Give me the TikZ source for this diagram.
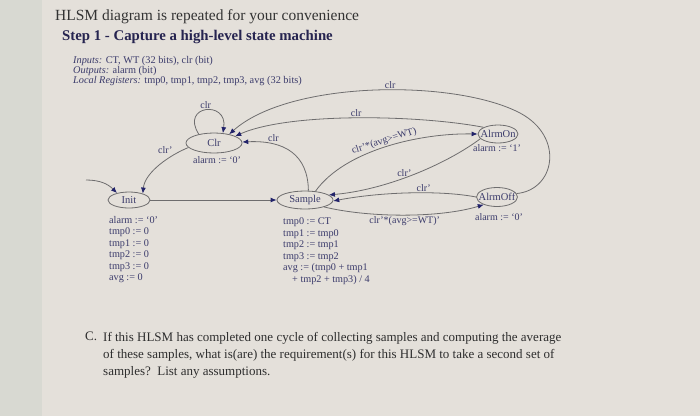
\documentclass[tikz,border=0pt]{standalone}
\usepackage{fontspec}
\setmainfont{Liberation Serif}
\usepackage{xcolor}
\usepackage{tikz}
\usetikzlibrary{arrows.meta,positioning,calc}
\usetikzlibrary{shapes.geometric}
\definecolor{paper}{HTML}{E4E0DA}
\definecolor{strip}{HTML}{D8D9D2}
\definecolor{ink}{HTML}{3B3B6B}
\definecolor{tipc}{HTML}{22236A}
\definecolor{wire}{HTML}{6E6D6E}
\definecolor{stepc}{HTML}{262450}

\begin{document}
\begin{tikzpicture}[x=1pt,y=-1pt,
	st/.style={ellipse,draw=wire,line width=0.8pt,inner xsep=0pt,inner ysep=0pt,text=ink,font=\fontsize{10.5}{11}\selectfont},
	edge/.style={draw=wire,line width=0.8pt,-{Latex[length=6pt,width=5pt,color=tipc]}},
	lbl/.style={text=ink,font=\fontsize{10}{11}\selectfont,inner sep=1pt},
	act/.style={text=ink,font=\fontsize{10.2}{11.5}\selectfont,align=left,inner sep=0pt,anchor=north west},
	head/.style={text=ink,font=\fontsize{10.3}{10.5}\selectfont,inner sep=0pt,anchor=base west},
	ask/.style={anchor=north west,inner sep=0pt,text=black!82,align=left,font=\fontsize{13}{17}\selectfont}]
		\fill[paper] (0,0) rectangle (700,416);
		\fill[strip] (0,0) rectangle (42,416);
		\useasboundingbox (0,0) rectangle (700,416);
		\node[anchor=base west,inner sep=0pt,text=black!80,font=\fontsize{15.5}{18}\selectfont] (title) at (55,20) {HLSM diagram is repeated for your convenience};
		\node[anchor=base west,inner sep=0pt,text=stepc,font=\bfseries\fontsize{14.8}{17}\selectfont] (step) at (62,40) {Step 1 - Capture a high-level state machine};
		\node[head] (inputs) at (73,63) {\textit{Inputs:} CT, WT (32 bits), clr (bit)};
		\node[head] (outputs) at (73,73) {\textit{Outputs:} alarm (bit)};
		\node[head] (locals) at (73,83) {\textit{Local Registers:} tmp0, tmp1, tmp2, tmp3, avg (32 bits)};
		\node[st,minimum width=42pt,minimum height=16pt] (init) at (129,200) {Init};
		\node[st,minimum width=56pt,minimum height=20pt] (clr) at (214,143) {Clr};
		\node[st,minimum width=56pt,minimum height=18pt] (sample) at (305,200) {Sample};
		\node[st,minimum width=40pt,minimum height=18pt,inner xsep=-4pt] (alrmon) at (498,134) {AlrmOn};
		\node[st,minimum width=41pt,minimum height=19pt,inner xsep=-4pt] (alrmoff) at (497,197) {AlrmOff};
		\node[lbl] (clract) at (217,160) {alarm := `0'};
		\node[lbl] (onact) at (497,148) {alarm := `1'};
		\node[lbl] (offact) at (499,217) {alarm := `0'};
		\node[act] (initact) at (109,216) {alarm := `0'\\tmp0 := 0\\tmp1 := 0\\tmp2 := 0\\tmp3 := 0\\avg := 0};
		\node[act] (sampleact) at (283,218) {tmp0 := CT\\tmp1 := tmp0\\tmp2 := tmp1\\tmp3 := tmp2\\avg := (tmp0 + tmp1\\\hspace*{9pt}+ tmp2 + tmp3) / 4};
		\coordinate (entry) at (86,180);
		\draw[edge] (entry) .. controls (100,180) and (108,184) .. (init.150);
		\draw[edge] (init) -- (sample);
		\draw[edge] (clr.190) .. controls (170,155) and (145,172) .. (init.25) node[lbl,pos=0.25,anchor=south east] {clr'};
		\draw[edge] (clr.150) .. controls (180,105) and (228,100) .. (clr.48) node[lbl,midway,above] {clr};
		\draw[edge] (alrmon.155) .. controls (420,115) and (290,112) .. (clr.18) node[lbl,midway,above] {clr};
		\draw[edge] (alrmoff.10) .. controls (555,190) and (565,137) .. (520,113) .. controls (455,79) and (290,80) .. (clr.30) node[lbl,pos=0.45,above] {clr};
		\draw[edge] (sample.70) .. controls (308,155) and (285,140) .. (clr.2) node[lbl,pos=0.72,above=1pt] {clr};
		\draw[edge] (sample.40) .. controls (345,150) and (420,133) .. (alrmon.west) node[lbl,pos=0.5,above,sloped] {clr'*(avg>=WT)};
		\draw[edge] (alrmon.195) .. controls (445,165) and (385,190) .. (sample.12) node[lbl,pos=0.55,above] {clr'};
		\draw[edge] (alrmoff.west) .. controls (440,190) and (380,192) .. (sample.-2) node[lbl,pos=0.4,above] {clr'};
		\draw[edge] (sample.-20) .. controls (370,218) and (440,218) .. (alrmoff.210) node[lbl,pos=0.5,below] {clr'*(avg>=WT)'};
		\node[ask] (qlabel) at (85,332) {C.};
		\node[ask] (qtext) at (103,332) {If this HLSM has completed one cycle of collecting samples and computing the average\\of these samples, what is(are) the requirement(s) for this HLSM to take a second set of\\samples?\ \ List any assumptions.};
	\end{tikzpicture}
\end{document}
